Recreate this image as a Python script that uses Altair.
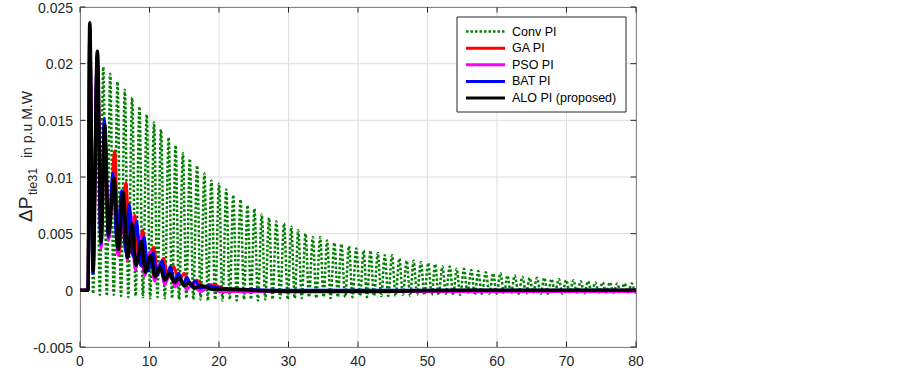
import altair as alt
import pandas as pd

# ---------------- data ----------------
x_ticks = [0, 10, 20, 30, 40, 50, 60, 70, 80]
y_ticks = [-0.005, 0, 0.005, 0.01, 0.015, 0.02, 0.025]
series_names = ["Conv PI", "GA PI", "PSO PI", "BAT PI", "ALO PI (proposed)"]
series_colors = ["#008000", "#ff0000", "#ff00ff", "#0000ff", "#000000"]

# Conventional PI: start, peaks, troughs, end
conv_start_t = [0, 1.15, 1.45, 1.9, 2.4]
conv_start_v = [0, 0, 0.0195, -0.0003, 0.0200]
conv_peak_t = [3.35, 4.35, 5.4, 6.45, 7.5, 8.55, 9.6, 10.65, 11.65, 12.75,
               13.75, 14.8, 15.8, 16.85, 17.9, 18.9, 20.0, 21.05, 22.05, 23.1,
               24.1, 25.1, 26.15, 27.2, 28.25, 29.35, 30.4, 31.4, 32.45, 33.5,
               34.55, 35.55, 36.6, 37.6, 38.7, 39.75, 40.8, 41.8, 42.85, 43.85,
               44.9, 45.95, 47.0, 48.0, 49.05, 50.1, 51.1, 52.15, 53.2, 54.2,
               55.25, 56.3, 57.3, 58.4, 59.45, 60.5, 61.5, 62.55, 63.65, 64.7,
               65.75, 66.8, 67.85, 68.9, 69.95, 71.0, 72.05, 73.1, 74.15, 75.2,
               76.25, 77.3, 78.35, 79.4]
conv_peak_v = [0.0197, 0.0191, 0.0184, 0.0177, 0.0170, 0.0162, 0.0155, 0.0148, 0.0142, 0.0135,
               0.0128, 0.0121, 0.0116, 0.0110, 0.0103, 0.0097, 0.0094, 0.0089, 0.0084, 0.0080,
               0.0075, 0.0072, 0.0067, 0.0064, 0.0061, 0.0059, 0.0056, 0.0053, 0.0050, 0.0047,
               0.0047, 0.0044, 0.0042, 0.0041, 0.0039, 0.0037, 0.0035, 0.0035, 0.0033, 0.0031,
               0.0031, 0.0028, 0.0026, 0.0026, 0.0025, 0.0024, 0.0023, 0.0021, 0.0021, 0.0019,
               0.0019, 0.0018, 0.0017, 0.0016, 0.0015, 0.0015, 0.0013, 0.0013, 0.0012, 0.0011,
               0.0011, 0.0011, 0.0010, 0.0010, 0.0009, 0.0009, 0.0008, 0.0008, 0.0007, 0.0007,
               0.0007, 0.0006, 0.0006, 0.0006]
conv_trough_t = [2.85, 3.85, 4.85, 5.9, 6.95, 8.0, 9.05, 10.1, 11.15, 12.2,
                 13.25, 14.25, 15.3, 16.3, 17.35, 18.4, 19.45, 20.5, 21.55, 22.55,
                 23.6, 24.6, 25.6, 26.65, 27.7, 28.8, 29.9, 30.9, 31.9, 32.95,
                 34.0, 35.05, 36.05, 37.1, 38.15, 39.2, 40.3, 41.3, 42.3, 43.35,
                 44.35, 45.4, 46.45, 47.5, 48.5, 49.55, 50.6, 51.6, 52.65, 53.7,
                 54.7, 55.75, 56.8, 57.8, 58.9, 59.95, 61.0, 62.0, 63.1, 64.2,
                 65.2, 66.3, 67.3, 68.35, 69.4, 70.45, 71.5, 72.55, 73.6, 74.65,
                 75.7, 76.75, 77.8, 78.85, 79.9]
conv_trough_v = [-0.0004, -0.0005, -0.0004, -0.0005, -0.0006, -0.0005, -0.0006, -0.0007, -0.0006, -0.0007,
                 -0.0007, -0.0008, -0.0007, -0.0008, -0.0008, -0.0009, -0.0008, -0.0009, -0.0008, -0.0009,
                 -0.0008, -0.0008, -0.0009, -0.0008, -0.0008, -0.0007, -0.0008, -0.0007, -0.0007, -0.0006,
                 -0.0007, -0.0006, -0.0007, -0.0006, -0.0006, -0.0006, -0.0005, -0.0006, -0.0005, -0.0005,
                 -0.0005, -0.0005, -0.0004, -0.0005, -0.0004, -0.0004, -0.0004, -0.0004, -0.0003, -0.0004,
                 -0.0004, -0.0003, -0.0004, -0.0003, -0.0003, -0.0003, -0.0003, -0.0003, -0.0003, -0.0003,
                 -0.0002, -0.0003, -0.0003, -0.0002, -0.0003, -0.0002, -0.0002, -0.0003, -0.0002, -0.0002,
                 -0.0002, -0.0002, -0.0002, -0.0002, -0.0002]
conv_end_t = [80.0]
conv_end_v = [0.0001]

ga_t = [0, 1.15, 1.4, 1.88, 2.5, 3.05, 3.55, 4.15, 5.0, 5.55,
        6.6, 7.2, 7.9, 8.4, 9.0, 9.7, 10.6, 11.2, 12.0, 12.7,
        13.5, 14.2, 15.0, 15.8, 16.8, 17.8, 19.0, 21.0, 25.0, 30.0,
        45.0, 80.0]
ga_v = [0, 0, 0.0234, 0.0016, 0.0208, 0.0042, 0.0145, 0.0046, 0.0123, 0.0031,
        0.0095, 0.0033, 0.0066, 0.0026, 0.0053, 0.0019, 0.0038, 0.0015, 0.0028, 0.0011,
        0.0021, 0.0008, 0.0015, 0.0005, 0.0009, 0.0003, 0.0005, 0.0001, 0.0, -0.0001,
        -0.0001, 0.0]

pso_t = [0, 1.15, 1.4, 1.87, 2.48, 3.05, 3.52, 4.1, 4.8, 5.45,
         6.1, 6.8, 7.3, 7.95, 8.7, 9.3, 10.1, 10.75, 11.5, 12.2,
         13.0, 13.7, 14.5, 15.3, 16.3, 17.3, 18.5, 20.0, 25.0, 40.0,
         80.0]
pso_v = [0, 0, 0.0233, 0.0016, 0.0207, 0.0037, 0.0148, 0.0044, 0.0101, 0.0031,
         0.0087, 0.0026, 0.0068, 0.0018, 0.0048, 0.0013, 0.0034, 0.0008, 0.0024, 0.0005,
         0.0016, 0.0003, 0.0010, 0.0001, 0.0005, -0.0001, 0.0002, -0.0001, -0.0001, -0.0001,
         -0.0001]

bat_t = [0, 1.15, 1.4, 1.86, 2.47, 3.0, 3.5, 4.1, 4.7, 5.35,
         6.0, 6.55, 7.1, 7.6, 8.15, 8.7, 9.2, 9.8, 10.5, 11.1,
         11.8, 12.4, 13.0, 13.6, 14.2, 14.8, 15.4, 16.0, 16.6, 17.3,
         18.5, 20.0, 23.0, 30.0, 45.0, 80.0]
bat_v = [0, 0, 0.0232, 0.0015, 0.0206, 0.0041, 0.0151, 0.0047, 0.0103, 0.0040,
         0.0088, 0.0034, 0.0076, 0.0030, 0.0061, 0.0022, 0.0047, 0.0017, 0.0033, 0.0013,
         0.0026, 0.0010, 0.0021, 0.0008, 0.0015, 0.0005, 0.0011, 0.0004, 0.0008, 0.0002,
         0.0004, 0.0002, 0.0001, 0.0, 0.0, 0.0]

alo_t = [0, 1.15, 1.4, 1.88, 2.5, 3.05, 3.55, 4.1, 4.9, 5.5,
         6.2, 6.85, 7.45, 8.05, 8.85, 9.4, 10.15, 10.8, 11.5, 12.2,
         12.9, 13.6, 14.3, 15.0, 15.7, 16.5, 17.5, 19.0, 21.0, 25.0,
         30.0, 40.0, 55.0, 80.0]
alo_v = [0, 0, 0.0236, 0.0017, 0.0211, 0.0043, 0.0146, 0.0049, 0.0099, 0.0036,
         0.0086, 0.0029, 0.0059, 0.0022, 0.0043, 0.0016, 0.0031, 0.0012, 0.0021, 0.0009,
         0.0015, 0.0007, 0.0011, 0.0004, 0.0007, 0.0002, 0.0004, 0.0001, 0.0001, 0.0,
         -0.0001, -0.0001, 0.0, 0.0]

# ---------------- layout ----------------
W, H = 556, 340
TOP = 7
AX = "#262626"
GRID = "#dedede"
FONT = "Liberation Sans"

conv_df = pd.DataFrame({
    "t": conv_start_t + conv_peak_t + conv_trough_t + conv_end_t,
    "v": conv_start_v + conv_peak_v + conv_trough_v + conv_end_v,
}).sort_values("t").reset_index(drop=True)


def df_of(ts, vs):
    return pd.DataFrame({"t": ts, "v": vs})


x_scale = alt.Scale(domain=[0, 80], nice=False, zero=False)
y_scale = alt.Scale(domain=[-0.005, 0.025], nice=False, zero=False)
x_enc = alt.X("t:Q", scale=x_scale, axis=None)
y_enc = alt.Y("v:Q", scale=y_scale, axis=None)

# grid, drawn from the tick lists
xt = pd.DataFrame({"t": x_ticks, "lab": [f"{v:g}" for v in x_ticks]})
yt = pd.DataFrame({"v": y_ticks, "lab": [f"{v:g}" for v in y_ticks]})
grid_x = alt.Chart(xt).mark_rule(color=GRID, strokeWidth=1).encode(
    x=x_enc, y=alt.value(0), y2=alt.value(H))
grid_y = alt.Chart(yt).mark_rule(color=GRID, strokeWidth=1).encode(
    y=y_enc, x=alt.value(0), x2=alt.value(W))


def line(df, color, width, dash=None):
    kw = dict(color=color, strokeWidth=width, interpolate="monotone", clip=True)
    if dash is not None:
        kw["strokeDash"] = dash
        kw["strokeCap"] = "butt"
    return alt.Chart(df).mark_line(**kw).encode(x=x_enc, y=y_enc)


conv_line = line(conv_df, series_colors[0], 2.5, [2.5, 2])
ga_line = line(df_of(ga_t, ga_v), series_colors[1], 3)
pso_line = line(df_of(pso_t, pso_v), series_colors[2], 3)
bat_line = line(df_of(bat_t, bat_v), series_colors[3], 3)
alo_line = line(df_of(alo_t, alo_v), series_colors[4], 3.5)

# inward ticks and tick labels
TL = 5.5
tick_b = alt.Chart(xt).mark_rule(color=AX, strokeWidth=1).encode(x=x_enc, y=alt.value(H), y2=alt.value(H - TL))
tick_t = alt.Chart(xt).mark_rule(color=AX, strokeWidth=1).encode(x=x_enc, y=alt.value(0), y2=alt.value(TL))
tick_l = alt.Chart(yt).mark_rule(color=AX, strokeWidth=1).encode(y=y_enc, x=alt.value(0), x2=alt.value(TL))
tick_r = alt.Chart(yt).mark_rule(color=AX, strokeWidth=1).encode(y=y_enc, x=alt.value(W), x2=alt.value(W - TL))
lab_x = alt.Chart(xt).mark_text(align="center", baseline="top", font=FONT, fontSize=14,
                                color=AX).encode(x=x_enc, y=alt.value(H + 8), text="lab:N")
lab_y = alt.Chart(yt).mark_text(align="right", baseline="middle", font=FONT, fontSize=14,
                                dy=1.5, color=AX).encode(y=y_enc, x=alt.value(-7), text="lab:N")

# legend (manual, MATLAB style); positions relative to the plot's top-left corner
one = pd.DataFrame({"a": [0]})
leg_layers = [alt.Chart(one).mark_rect(fill="white", stroke=AX, strokeWidth=1).encode(
    x=alt.value(377), x2=alt.value(546), y=alt.value(17 - TOP), y2=alt.value(112 - TOP))]
for i, (name, col) in enumerate(zip(series_names, series_colors)):
    py = 31.6 - TOP + i * 16.6
    kw = dict(color=col, strokeWidth=3, strokeCap="butt")
    if i == 0:
        kw.update(strokeWidth=2.5, strokeDash=[2.5, 2])
    leg_layers.append(alt.Chart(one).mark_rule(**kw).encode(
        x=alt.value(386), x2=alt.value(425), y=alt.value(py)))
    leg_layers.append(alt.Chart(pd.DataFrame({"s": [name]})).mark_text(
        align="left", baseline="middle", font=FONT, fontSize=12.5, color="#000000").encode(
        x=alt.value(432), y=alt.value(py), text="s:N"))


# y-axis title with subscript
def ttl(txt, size, x, y):
    return alt.Chart(pd.DataFrame({"s": [txt]})).mark_text(
        angle=270, align="left", baseline="alphabetic", font=FONT,
        fontSize=size, color=AX).encode(x=alt.value(x), y=alt.value(y - TOP), text="s:N")


t1 = ttl("\u0394P", 19, -48.5, 222)
t2 = ttl("tie31", 12.5, -43, 195)
t3 = ttl("in p.u M.W", 14, -48.5, 158)

chart = alt.layer(
    grid_x, grid_y,
    conv_line, ga_line, pso_line, bat_line, alo_line,
    tick_b, tick_t, tick_l, tick_r, lab_x, lab_y,
    *leg_layers,
    t1, t2, t3,
).properties(
    width=W, height=H,
    autosize=alt.AutoSizeParams(type="none"),
    padding={"left": 80, "top": TOP, "right": 264, "bottom": 370 - TOP - H},
    background="white",
).configure_view(stroke=AX, strokeWidth=1)

chart.save("out.html", embed_options={"renderer": "svg", "actions": False})
